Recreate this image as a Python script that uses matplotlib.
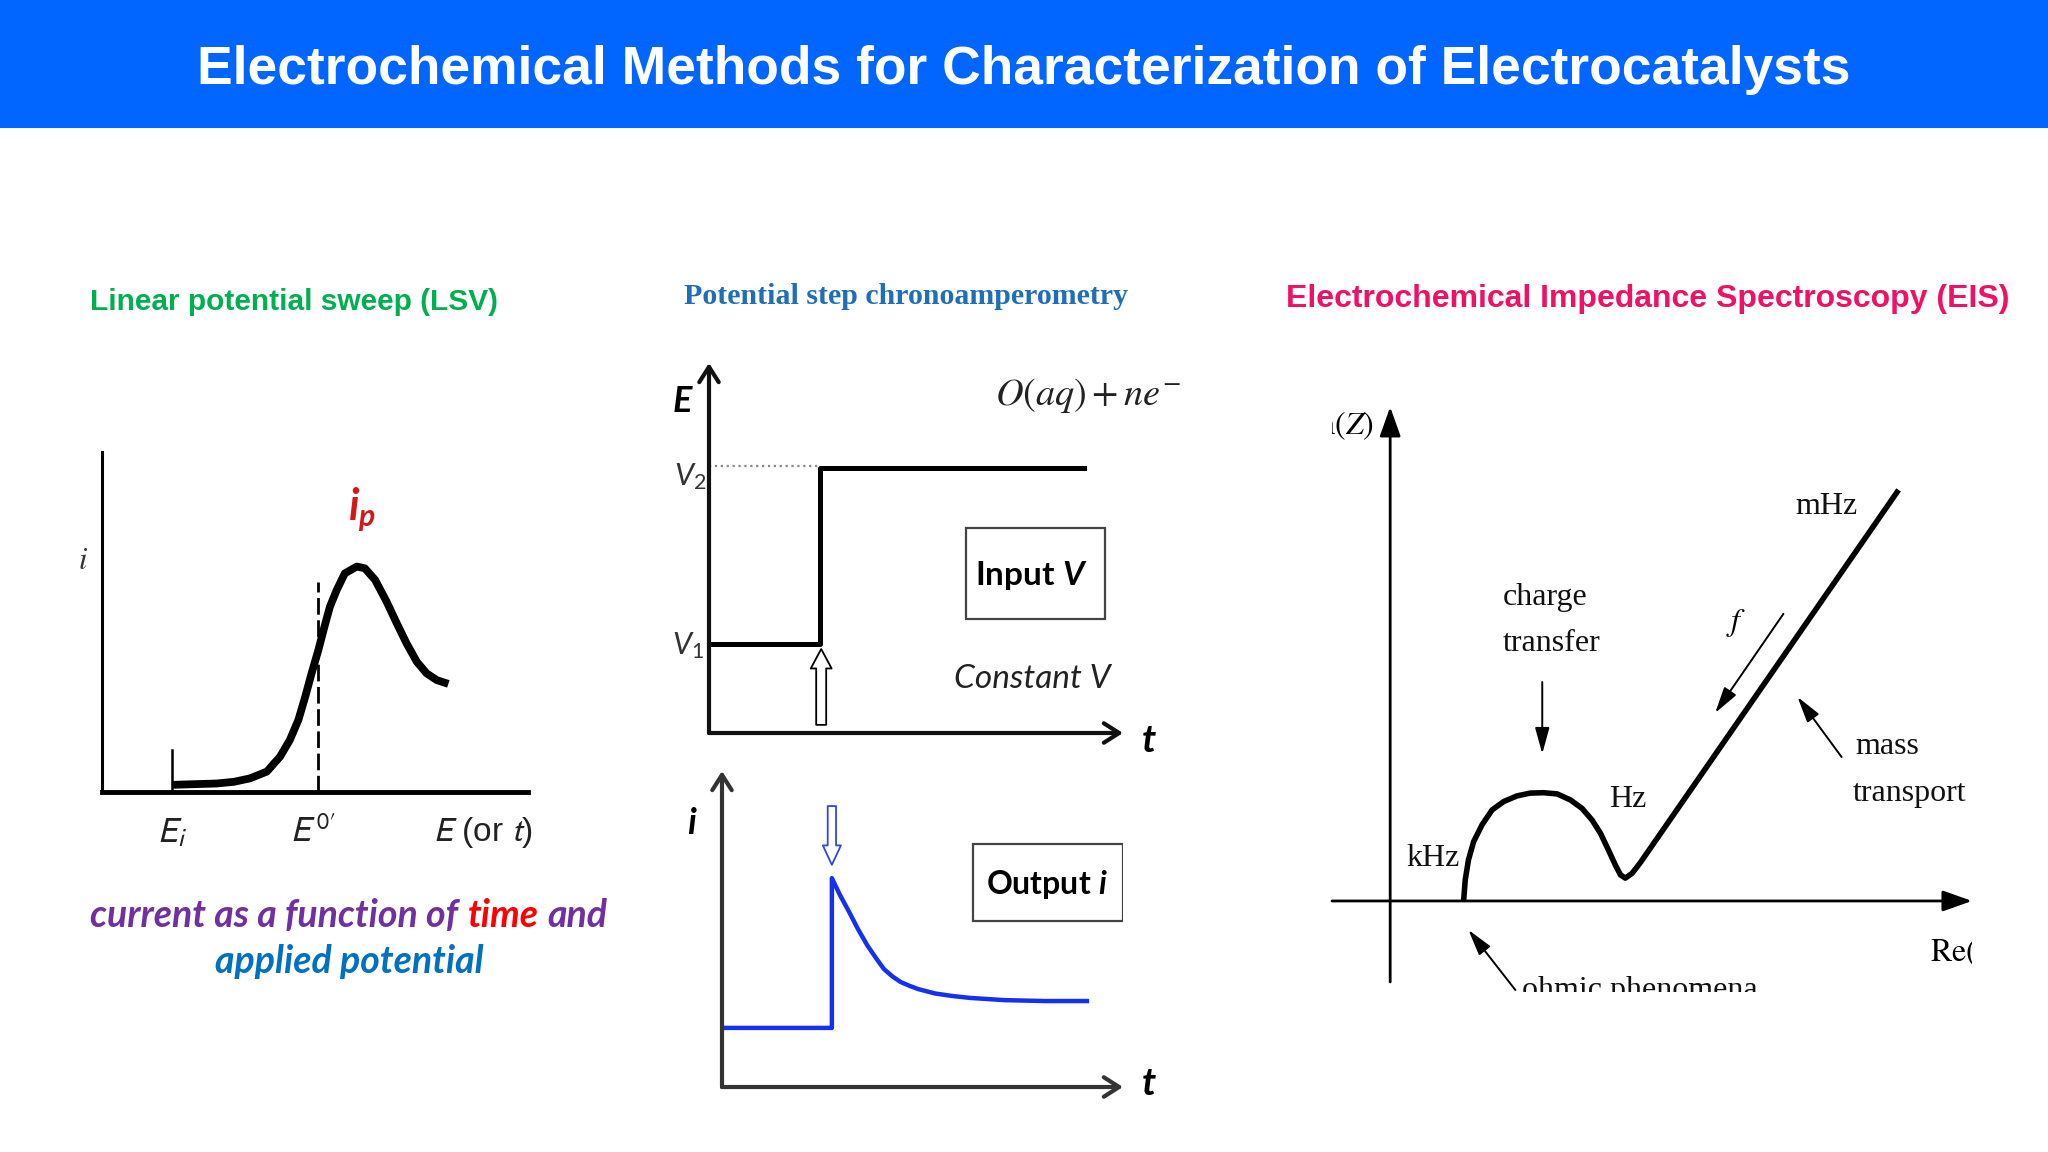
import matplotlib.pyplot as plt
from matplotlib.patches import Rectangle

W, H = 2048, 1152

plt.rcParams['mathtext.fontset'] = 'custom'
plt.rcParams['mathtext.rm'] = 'Lato'
plt.rcParams['mathtext.it'] = 'Lato:italic'
plt.rcParams['mathtext.bf'] = 'Lato:bold'
plt.rcParams['mathtext.bfit'] = 'Lato:bold:italic'

TITLE = "Electrochemical Methods for Characterization of Electrocatalysts"
LSV_TITLE = "Linear potential sweep (LSV)"
CA_TITLE = "Potential step chronoamperometry"
EIS_TITLE = "Electrochemical Impedance Spectroscopy (EIS)"

# LSV sketch: potential vs current (arbitrary units)
lsv_E = [1.64, 2.69, 3.10, 3.47, 3.87, 4.18, 4.41, 4.61, 4.77, 4.92, 5.08,
         5.20, 5.35, 5.51, 5.70, 5.98, 6.17, 6.41, 6.68, 6.92, 7.15, 7.39,
         7.62, 7.86, 8.13]
lsv_i = [0.21, 0.25, 0.30, 0.40, 0.60, 1.04, 1.53, 2.12, 2.80, 3.49, 4.18,
         4.76, 5.45, 5.94, 6.43, 6.63, 6.58, 6.24, 5.60, 4.96, 4.37, 3.83,
         3.49, 3.29, 3.18]
E_i = 1.64
E_i_tick = 1.24
E0 = 5.08
E0_top = 6.18

# chronoamperometry: input potential step
V1, V2 = 2.4, 7.16
t_step, t_end = 2.68, 9.05

# chronoamperometry: output current
ca_t = [0, 2.74, 2.74, 2.94, 3.17, 3.39, 3.62, 3.84, 4.04, 4.26, 4.46,
        4.68, 4.89, 5.31, 5.74, 6.18, 7.03, 8.05, 9.10]
ca_i = [1.87, 1.87, 6.61, 6.08, 5.54, 5.00, 4.49, 4.08, 3.73, 3.49, 3.32,
        3.20, 3.10, 2.96, 2.88, 2.82, 2.75, 2.72, 2.72]

# EIS Nyquist sketch: Re(Z) vs -Im(Z)
z_re = [1.83, 1.87, 1.95, 2.08, 2.29, 2.54, 2.83, 3.16, 3.49, 3.82, 4.16,
        4.49, 4.78, 5.03, 5.24, 5.44, 5.61, 5.74, 5.86, 6.03, 6.23, 12.67]
z_im = [0.00, 0.52, 1.02, 1.48, 1.90, 2.27, 2.48, 2.62, 2.69, 2.70, 2.67,
        2.52, 2.31, 2.02, 1.69, 1.27, 0.90, 0.65, 0.57, 0.69, 0.95, 10.25]

PURPLE, RED, BLUE = '#7030A0', '#FF0000', '#0070C0'

fig = plt.figure(figsize=(W / 100, H / 100), dpi=100)
bg = fig.add_axes([0, 0, 1, 1])
bg.set_xlim(0, W)
bg.set_ylim(H, 0)
bg.axis('off')

# title band
bg.add_patch(Rectangle((0, 0), W, 128, color='#0066FF', lw=0))
bg.text(1024, 70, TITLE, color='white', fontsize=38.4, fontweight='bold',
        family='Liberation Sans', ha='center', va='center')

bg.text(294, 302, LSV_TITLE, color='#00B050', fontsize=21.5, fontweight='bold',
        family='Liberation Sans', ha='center', va='center')
bg.text(906, 296, CA_TITLE, color='#1F6FB8', fontsize=21.5, fontweight='bold',
        family='Liberation Serif', ha='center', va='center')
bg.text(1648, 299, EIS_TITLE, color='#EE1166', fontsize=23, fontweight='bold',
        family='Liberation Sans', ha='center', va='center')


def panel(left, top, right, bottom, xlim, ylim):
    ax = fig.add_axes([left / W, 1 - bottom / H, (right - left) / W, (bottom - top) / H])
    ax.set_xlim(*xlim)
    ax.set_ylim(*ylim)
    ax.set_axis_off()
    return ax


# ---- LSV ----
ax1 = fig.add_axes([102 / W, 1 - 792 / H, (528 - 102) / W, (792 - 452) / H])
ax1.set_xlim(0, 10)
ax1.set_ylim(0, 10)
ax1.set_xticks([])
ax1.set_yticks([])
ax1.patch.set_visible(False)
for s in ['top', 'right']:
    ax1.spines[s].set_visible(False)
ax1.spines['left'].set_linewidth(2.2)
ax1.spines['bottom'].set_linewidth(3.5)
ax1.plot(lsv_E, lsv_i, color='black', lw=5.6, solid_capstyle='butt',
         solid_joinstyle='round', clip_on=False)
ax1.plot([E_i, E_i], [0, E_i_tick], color='black', lw=1.8)
ax1.plot([E0, E0], [0, E0_top], color='black', lw=2, ls=(0, (6, 2)))
ax1.text(-0.45, 6.82, '$i$', math_fontfamily='stix', fontsize=22,
         color='#333333', ha='center', va='center')
ax1.text(6.1, 8.29, r'$\mathbfit{i}_{\mathbfit{p}}$', fontsize=31,
         color='#D41818', ha='center', va='center')
ax1.text(1.64, -1.18, '$E_i$', math_fontfamily='stixsans', fontsize=25,
         ha='center', va='center', color='#222222')
ax1.text(4.95, -1.18, r"$E^{0\prime}$", math_fontfamily='stixsans', fontsize=25,
         ha='center', va='center', color='#222222')
ax1.text(8.94, -1.18, '$E$ (or $t$)', math_fontfamily='stixsans', fontsize=24,
         family='Liberation Sans', ha='center', va='center', color='#222222')

# caption with coloured words
renderer = fig.canvas.get_renderer()
pieces = [('current as a function of', PURPLE), ('time', RED), ('and', PURPLE)]
cap_size = 27
cap_kw = dict(fontsize=cap_size, family='Lato', fontweight='bold', style='italic',
              va='baseline', ha='left')
objs = [bg.text(0, 927, s, color=c, **cap_kw) for s, c in pieces]
widths = [o.get_window_extent(renderer).width for o in objs]
gap = 0.24 * cap_size * 100 / 72
total = sum(widths) + gap * (len(widths) - 1)
x = 349 - total / 2
for o, w in zip(objs, widths):
    o.set_x(x)
    x += w + gap
bg.text(349, 973, 'applied potential', color=BLUE, fontsize=cap_size, family='Lato',
        fontweight='bold', style='italic', ha='center', va='baseline')

# ---- chronoamperometry: input ----
ax2 = panel(709, 363, 1123, 733, (0, 10), (0, 10))
axis_arrow = dict(arrowstyle='->,head_length=0.55,head_width=0.35', lw=3,
                  color='#111111', mutation_scale=20, shrinkA=0, shrinkB=0)
ax2.annotate('', xy=(0, 1), xytext=(0, 0), xycoords='axes fraction',
             arrowprops=axis_arrow, annotation_clip=False)
ax2.annotate('', xy=(1, 0), xytext=(0, 0), xycoords='axes fraction',
             arrowprops=axis_arrow, annotation_clip=False)
ax2.plot([0, t_step], [V2 + 0.06, V2 + 0.06], color='#888888', lw=1.6, ls=':')
ax2.plot([0, t_step, t_end], [V1, V2, V2], drawstyle='steps-post',
         color='black', lw=3.6)
ax2.annotate('', xy=(t_step + 0.03, 2.27), xytext=(t_step + 0.03, 0.22),
             arrowprops=dict(arrowstyle='simple,head_length=0.7,head_width=0.75,tail_width=0.36',
                             fc='white', ec='black', lw=1.3, mutation_scale=20,
                             shrinkA=0, shrinkB=0))
ax2.add_patch(Rectangle((6.21, 3.08), 3.36, 2.46, fill=False, ec='#444444', lw=1.6))
ax2.text(7.8, 4.27, r'$\mathbf{Input}\ \mathbfit{V}$', fontsize=24,
         ha='center', va='center')
ax2.text(7.8, 1.46, 'Constant V', family='Lato', style='italic', fontsize=24,
         ha='center', va='center', color='#222222')
ax2.text(-0.65, 8.97, 'E', family='Lato', fontweight='bold', style='italic',
         fontsize=26, ha='center', va='center')
ax2.text(9.15, 9.11, '$O(aq)+ne^{-}$', math_fontfamily='stix', fontsize=27.5,
         ha='center', va='center', color='#222222')
ax2.text(-0.46, 6.92, '$V_2$', fontsize=22, ha='center', va='center', color='#333333')
ax2.text(-0.51, 2.35, '$V_1$', fontsize=22, ha='center', va='center', color='#333333')
ax2.text(10.63, -0.19, 't', family='Lato', fontweight='bold', style='italic',
         fontsize=28, ha='center', va='center')

# ---- chronoamperometry: output ----
ax3 = panel(722, 771, 1123, 1087, (0, 10), (0, 10))
axis_arrow3 = dict(axis_arrow, color='#333333')
ax3.annotate('', xy=(0, 1), xytext=(0, 0), xycoords='axes fraction',
             arrowprops=axis_arrow3, annotation_clip=False)
ax3.annotate('', xy=(1, 0), xytext=(0, 0), xycoords='axes fraction',
             arrowprops=axis_arrow3, annotation_clip=False)
ax3.plot(ca_t, ca_i, color='#1530F0', lw=3.2, solid_joinstyle='round')
ax3.annotate('', xy=(2.74, 7.03), xytext=(2.74, 8.89),
             arrowprops=dict(arrowstyle='simple,head_length=0.7,head_width=0.65,tail_width=0.3',
                             fc='white', ec='#3344EE', lw=1.3, mutation_scale=20,
                             shrinkA=0, shrinkB=0))
ax3.add_patch(Rectangle((6.26, 5.25), 3.74, 2.44, fill=False, ec='#444444', lw=1.6))
ax3.text(8.1, 6.42, r'$\mathbf{Output}\ \mathbfit{i}$', fontsize=23,
         ha='center', va='center')
ax3.text(-0.75, 8.35, 'i', family='Lato', fontweight='bold', style='italic',
         fontsize=26, ha='center', va='center')
ax3.text(10.65, 0.1, 't', family='Lato', fontweight='bold', style='italic',
         fontsize=28, ha='center', va='center')

# ---- EIS ----
ax4 = panel(1332, 395.7, 1972, 992.4, (-1.45, 14.5), (-2.28, 12.6))
eis_axis = dict(arrowstyle='-|>,head_length=0.9,head_width=0.32', lw=2,
                color='black', mutation_scale=20, shrinkA=0, shrinkB=0)
ax4.annotate('', xy=(14.5, 0), xytext=(-1.45, 0), arrowprops=eis_axis,
             annotation_clip=False)
ax4.annotate('', xy=(0, 12.32), xytext=(0, -2.02), arrowprops=eis_axis,
             annotation_clip=False)
ax4.plot(z_re, z_im, color='black', lw=4, solid_joinstyle='round',
         solid_capstyle='butt')

thin = dict(arrowstyle='-|>,head_length=0.8,head_width=0.22', lw=1.4,
            color='black', mutation_scale=20, shrinkA=0, shrinkB=0)
ax4.annotate('', xy=(3.79, 3.67), xytext=(3.79, 5.46), arrowprops=thin)
ax4.annotate('', xy=(8.10, 4.69), xytext=(9.80, 7.16), arrowprops=thin)
ax4.annotate('', xy=(10.15, 5.09), xytext=(11.25, 3.59), arrowprops=thin)
ax4.annotate('', xy=(1.95, -0.72), xytext=(3.12, -2.22), arrowprops=thin,
             annotation_clip=False)

serif = dict(family='Liberation Serif', fontsize=23, color='#111111')
ax4.text(1.07, 1.07, 'kHz', ha='center', va='center', **serif)
ax4.text(5.91, 2.54, 'Hz', ha='center', va='center', **serif)
ax4.text(10.87, 9.83, 'mHz', ha='center', va='center', **serif)
ax4.text(3.87, 7.56, 'charge', ha='center', va='center', **serif)
ax4.text(4.02, 6.41, 'transfer', ha='center', va='center', **serif)
ax4.text(12.39, 3.84, 'mass', ha='center', va='center', **serif)
ax4.text(12.94, 2.69, 'transport', ha='center', va='center', **serif)
ax4.text(8.63, 6.93, '$f$', math_fontfamily='stix', fontsize=23,
         ha='center', va='center')
ax4.text(-0.40, 11.85, r'$\mathrm{Im}(Z)$', math_fontfamily='stix', fontsize=23,
         ha='right', va='center', clip_on=True)
ax4.text(13.45, -1.30, r'$\mathrm{Re}(Z)$', math_fontfamily='stix', fontsize=23,
         ha='left', va='center', clip_on=True)
ax4.text(6.21, -2.42, 'ohmic phenomena', ha='center', va='baseline',
         clip_on=True, **serif)

fig.savefig('out.png', dpi=100)
